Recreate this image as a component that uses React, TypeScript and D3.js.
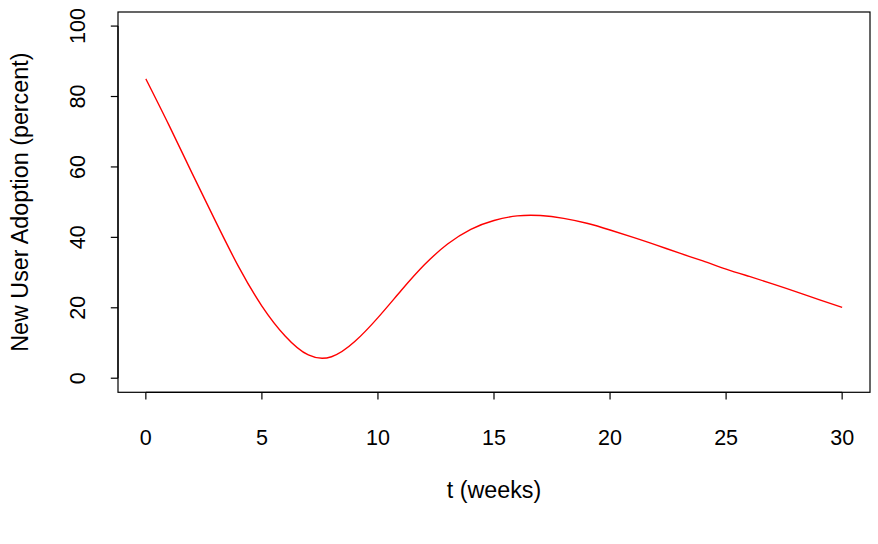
import React from "react";
import * as d3 from "d3";

const tValues = [0, 1, 2, 3, 4, 5, 6, 7, 8, 9, 10, 11, 12, 13, 14, 15, 16, 17, 18, 19, 20, 21, 22, 23, 24, 25, 26, 27, 28, 29, 30];
const adoption = [85, 71.8, 58.1, 44.6, 31.6, 20.5, 12.0, 6.6, 6.1, 10.4, 17.2, 24.9, 32.2, 38.1, 42.3, 44.8, 46.1, 46.2, 45.4, 44.0, 42.1, 40.0, 37.8, 35.5, 33.3, 31.0, 28.9, 26.8, 24.6, 22.3, 20.1];
const xTicks = [0, 5, 10, 15, 20, 25, 30];
const yTicks = [0, 20, 40, 60, 80, 100];
const xLabel = "t (weeks)";
const yLabel = "New User Adoption (percent)";

export default function App() {
  const W = 878, H = 544;
  const x = d3.scaleLinear().domain([-1.2, 31.2]).range([118, 870]);
  const y = d3.scaleLinear().domain([-4, 104]).range([392.3, 12]);
  const pts: [number, number][] = tValues.map((t, i) => [t, adoption[i]]);
  const line = d3.line<[number, number]>()
    .x(d => x(d[0]))
    .y(d => y(d[1]))
    .curve(d3.curveNatural);
  const font = "Liberation Sans, Arial, Helvetica, sans-serif";
  const fs = 21.5;
  const fsT = 23.3;
  return (
    <svg width={W} height={H} style={{ position: "absolute", left: 0, top: 0, background: "#fff" }} fontFamily={font}>
      <rect x={0} y={0} width={W} height={H} fill="#fff" />
      <rect x={118} y={12} width={752} height={380.3} fill="none" stroke="#000" strokeWidth={1.2} />
      <path d={line(pts) || ""} fill="none" stroke="#ff0000" strokeWidth={1.4} />
      {/* x axis */}
      <line x1={x(0)} x2={x(30)} y1={392.3} y2={392.3} stroke="#000" strokeWidth={1.2} />
      {xTicks.map(t => (
        <g key={"x" + t}>
          <line x1={x(t)} x2={x(t)} y1={392.3} y2={399.5} stroke="#000" strokeWidth={1.2} />
          <text x={x(t)} y={445} textAnchor="middle" fontSize={fs} fill="#000">{t}</text>
        </g>
      ))}
      {/* y axis */}
      <line x1={118} x2={118} y1={y(0)} y2={y(100)} stroke="#000" strokeWidth={1.2} />
      {yTicks.map(v => (
        <g key={"y" + v}>
          <line x1={110.8} x2={118} y1={y(v)} y2={y(v)} stroke="#000" strokeWidth={1.2} />
          <text transform={`translate(85,${y(v)}) rotate(-90)`} textAnchor="middle" fontSize={fs} fill="#000">{v}</text>
        </g>
      ))}
      <text x={494} y={498} textAnchor="middle" fontSize={fsT} fill="#000">{xLabel}</text>
      <text transform={`translate(28,${y(50)}) rotate(-90)`} textAnchor="middle" fontSize={fsT} fill="#000">{yLabel}</text>
    </svg>
  );
}
